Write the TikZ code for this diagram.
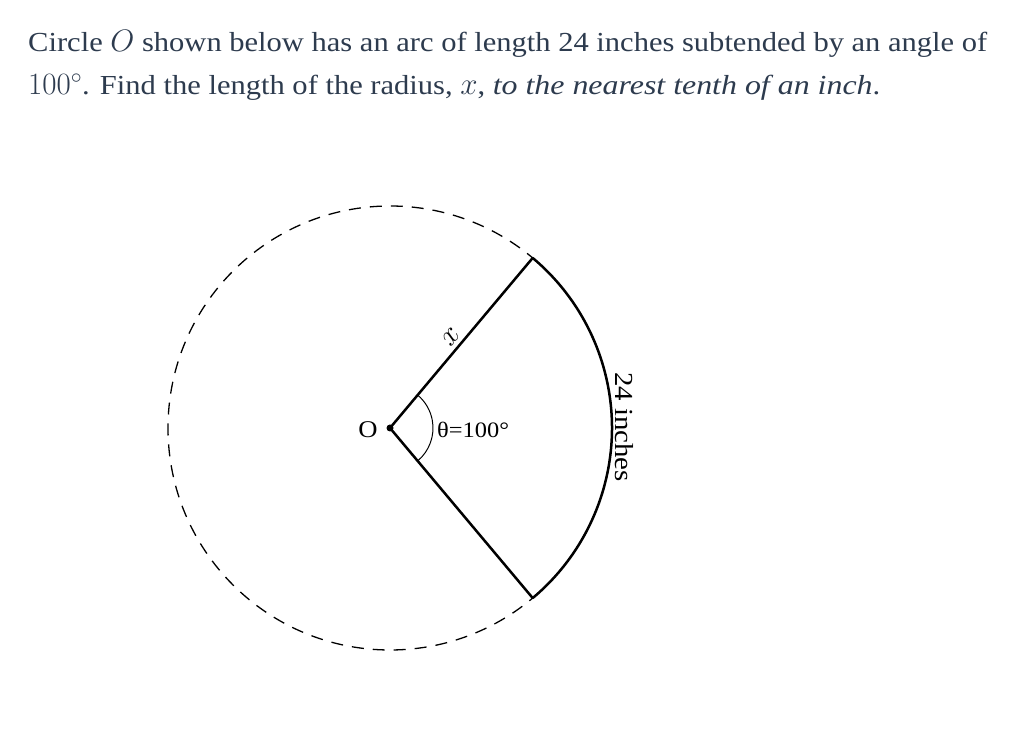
\RequirePackage{fix-cm}
\documentclass[tikz,border=0pt]{standalone}
\usepackage{fontspec}
\setmainfont[FakeStretch=1.11,ItalicFeatures={FakeStretch=1.16}]{Liberation Serif}
\usetikzlibrary{calc}
\definecolor{txt}{HTML}{2D3B4E}
\newcommand{\bigmath}[1]{{\fontsize{31}{34}\selectfont\(#1\)}}
\begin{document}
\begin{tikzpicture}[x=1pt,y=1pt,
  dashedcirc/.style={draw=black,line width=1.3pt,dash pattern=on 12pt off 9pt},
  solidline/.style={draw=black,line width=2.5pt,line join=round},
  thinline/.style={draw=black,line width=1pt},
  lbl/.style={inner sep=0pt,font=\fontsize{24}{28}\selectfont},
  qtext/.style={inner sep=0pt,anchor=base west,text=txt,font=\fontsize{27.5}{32}\selectfont}]
\useasboundingbox[fill=white] (0,0) rectangle (1024,746);
% question text
\node[qtext] (q1) at (28,694) {Circle \bigmath{O} shown below has an arc of length 24 inches subtended by an angle of};
\node[qtext] (q2) at (28,651) {\bigmath{100^\circ}. Find the length of the radius, \bigmath{x}, \textit{to the nearest tenth of an inch}.};
% geometry
\coordinate (O) at (390,318);
\coordinate (A) at ($(O)+(50:222)$);
\coordinate (B) at ($(O)+(-50:222)$);
\draw[dashedcirc] (O) circle (222);
\draw[solidline] (A) -- (O) -- (B);
\draw[solidline] (B) arc[start angle=-50,end angle=50,radius=222];
\draw[thinline] ($(O)+(-50:43)$) arc[start angle=-50,end angle=50,radius=43];
\fill (O) circle (3.5);
% labels
\node[lbl] (lO) at (368,316) {O};
\node[lbl,anchor=west,font=\fontsize{22}{26}\selectfont] (lth) at (437,316) {θ=100°};
\node[lbl,rotate=50,font=\fontsize{30}{32}\selectfont] (lx) at (451,409) {\(x\)};
\node[lbl,rotate=-90,font=\fontsize{26}{30}\selectfont] (larc) at (624,319) {24 inches};
\end{tikzpicture}
\end{document}
